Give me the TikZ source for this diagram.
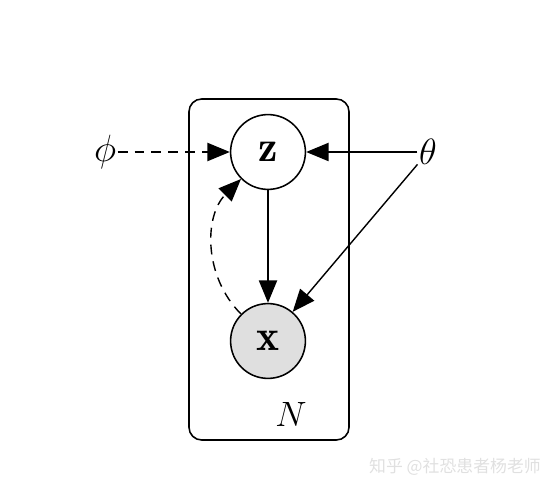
\RequirePackage{fix-cm}
\documentclass[tikz,border=0pt]{standalone}
\usepackage{amsmath}
\usepackage{amssymb}
\usepackage{fontspec}
\newfontfamily\cjk{Noto Sans CJK SC}
\usetikzlibrary{arrows.meta}
\begin{document}
\begin{tikzpicture}[x=0.025cm,y=-0.025cm,
  tekst/.style={font=\fontsize{26}{30}\selectfont},
  latent/.style={draw,circle,line width=1.1pt,minimum size=1.87cm,inner sep=0pt,font=\fontsize{31}{36}\selectfont},
  obs/.style={latent,fill=gray!25},
  pil/.style={-{Triangle[length=16pt,width=13pt]},line width=1pt},
  stiplet/.style={dash pattern=on 7pt off 5pt},
  plade/.style={line width=1.1pt,rounded corners=9pt}]
\useasboundingbox (0,0) rectangle (552,498);
%ramme
\draw[plade] (189,99) rectangle (349,440);
\node[tekst,font=\fontsize{25}{30}\selectfont] (N) at (291,414) {$N$};
%knuder
\node[latent] (z) at (268,152) {$\mathbf{z}$};
\node[obs] (x) at (268,341) {$\mathbf{x}$};
\node[tekst,font=\fontsize{27}{32}\selectfont,inner sep=1pt] (phi) at (105,152) {$\phi$};
\node[tekst,inner sep=1pt] (theta) at (428,152) {$\theta$};
%pile
\draw[pil,stiplet] (phi) -- (z);
\draw[pil] (theta) -- (z);
\draw[pil] (theta) -- (x);
\draw[pil] (z) -- (x);
\draw[pil,stiplet] (x) to[out=135,in=225] (z);
%vandmaerke
\node[text=black!12,font=\cjk\fontsize{12}{14}\selectfont] (wm) at (455,467) {知乎 @社恐患者杨老师};
\end{tikzpicture}
\end{document}
